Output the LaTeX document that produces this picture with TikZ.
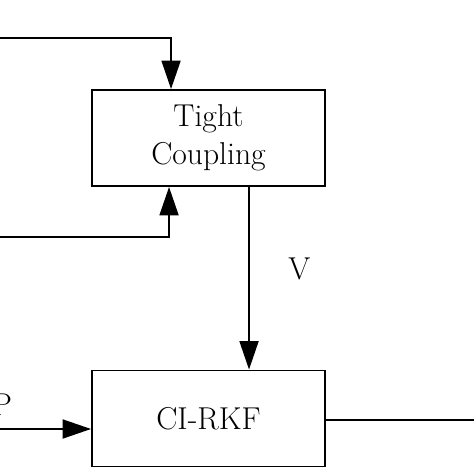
\documentclass[tikz,border=0pt]{standalone}
\usetikzlibrary{arrows.meta}

\begin{document}
\begin{tikzpicture}[x=0.02cm, y=-0.02cm,
	block/.style={rectangle, draw, line width=1.1pt, minimum width=4.66cm, minimum height=1.92cm, align=center, font=\fontsize{18}{21.6}\selectfont},
	arr/.style={-{Triangle[length=0.57cm,width=0.38cm]}, line width=1.1pt},
	lbl/.style={font=\fontsize{18}{21.6}\selectfont}]

	\useasboundingbox (0,0) rectangle (474,474);

	\node 	(tight)		at	(208.5,138) 	[block]{Tight\\Coupling};

	\node 	(ci)		at	(208.5,418.5) 	[block]{CI-RKF};

	\coordinate 	(intop)		at	(-10,38);
	\coordinate 	(infb)		at	(-10,237);
	\coordinate 	(inp)		at	(-10,429);
	\coordinate 	(out)		at	(490,420);

	\draw[arr]	(intop)	-|	([xshift=1.6cm]tight.north west);
	\draw[arr]	(infb)	-|	([xshift=1.56cm]tight.south west);
	\draw[arr]	([xshift=3.16cm]tight.south west)	--	node[lbl, right=0.65cm, pos=0.45]{V}	([xshift=3.16cm]ci.north west);
	\draw[arr]	(inp)	--	(inp -| ci.west);
	\draw[line width=1.1pt]	(ci.east |- out)	--	(out);

	\node 	(plbl)		at	(2,405) 	[lbl]{P};

\end{tikzpicture}
\end{document}
